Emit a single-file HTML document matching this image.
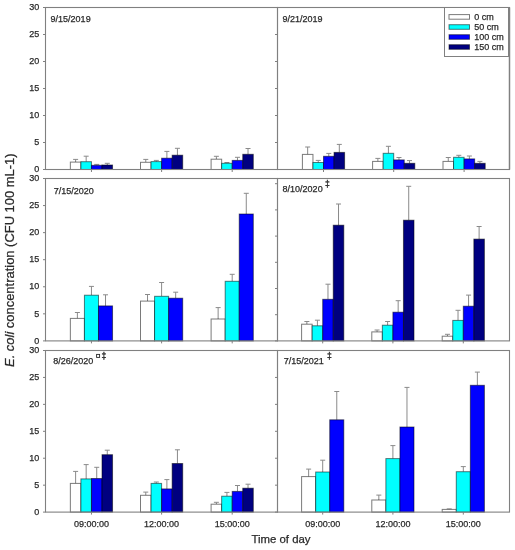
<!DOCTYPE html>
<html><head><meta charset="utf-8"><title>E. coli concentration chart</title>
<style>
html,body{margin:0;padding:0;background:#fff;}
body{width:515px;height:550px;overflow:hidden;font-family:"Liberation Sans",sans-serif;}
svg{display:block;will-change:transform;}
</style></head><body>
<svg width="515" height="550" viewBox="0 0 515 550">
<rect x="0" y="0" width="515" height="550" fill="#ffffff"/>
<line x1="75.62" y1="162.10" x2="75.62" y2="159.40" stroke="#8a8a8a" stroke-width="1"/>
<line x1="73.12" y1="159.40" x2="78.12" y2="159.40" stroke="#8a8a8a" stroke-width="1"/>
<rect x="70.35" y="162.10" width="10.55" height="7.40" fill="#ffffff" stroke="#000" stroke-opacity="0.52" stroke-width="1"/>
<line x1="86.17" y1="161.70" x2="86.17" y2="156.20" stroke="#8a8a8a" stroke-width="1"/>
<line x1="83.67" y1="156.20" x2="88.67" y2="156.20" stroke="#8a8a8a" stroke-width="1"/>
<rect x="80.90" y="161.70" width="10.55" height="7.80" fill="#00ffff" stroke="#000" stroke-opacity="0.52" stroke-width="1"/>
<line x1="96.72" y1="165.30" x2="96.72" y2="164.40" stroke="#8a8a8a" stroke-width="1"/>
<line x1="94.22" y1="164.40" x2="99.22" y2="164.40" stroke="#8a8a8a" stroke-width="1"/>
<rect x="91.45" y="165.30" width="10.55" height="4.20" fill="#0000ff" stroke="#000" stroke-opacity="0.52" stroke-width="1"/>
<line x1="107.28" y1="165.00" x2="107.28" y2="163.30" stroke="#8a8a8a" stroke-width="1"/>
<line x1="104.78" y1="163.30" x2="109.78" y2="163.30" stroke="#8a8a8a" stroke-width="1"/>
<rect x="102.00" y="165.00" width="10.55" height="4.50" fill="#000080" stroke="#000" stroke-opacity="0.52" stroke-width="1"/>
<line x1="145.78" y1="162.30" x2="145.78" y2="159.40" stroke="#8a8a8a" stroke-width="1"/>
<line x1="143.28" y1="159.40" x2="148.28" y2="159.40" stroke="#8a8a8a" stroke-width="1"/>
<rect x="140.50" y="162.30" width="10.55" height="7.20" fill="#ffffff" stroke="#000" stroke-opacity="0.52" stroke-width="1"/>
<line x1="156.33" y1="161.60" x2="156.33" y2="160.40" stroke="#8a8a8a" stroke-width="1"/>
<line x1="153.83" y1="160.40" x2="158.83" y2="160.40" stroke="#8a8a8a" stroke-width="1"/>
<rect x="151.05" y="161.60" width="10.55" height="7.90" fill="#00ffff" stroke="#000" stroke-opacity="0.52" stroke-width="1"/>
<line x1="166.88" y1="158.20" x2="166.88" y2="151.40" stroke="#8a8a8a" stroke-width="1"/>
<line x1="164.38" y1="151.40" x2="169.38" y2="151.40" stroke="#8a8a8a" stroke-width="1"/>
<rect x="161.60" y="158.20" width="10.55" height="11.30" fill="#0000ff" stroke="#000" stroke-opacity="0.52" stroke-width="1"/>
<line x1="177.43" y1="155.20" x2="177.43" y2="148.30" stroke="#8a8a8a" stroke-width="1"/>
<line x1="174.93" y1="148.30" x2="179.93" y2="148.30" stroke="#8a8a8a" stroke-width="1"/>
<rect x="172.15" y="155.20" width="10.55" height="14.30" fill="#000080" stroke="#000" stroke-opacity="0.52" stroke-width="1"/>
<line x1="216.38" y1="159.20" x2="216.38" y2="156.30" stroke="#8a8a8a" stroke-width="1"/>
<line x1="213.88" y1="156.30" x2="218.88" y2="156.30" stroke="#8a8a8a" stroke-width="1"/>
<rect x="211.10" y="159.20" width="10.55" height="10.30" fill="#ffffff" stroke="#000" stroke-opacity="0.52" stroke-width="1"/>
<line x1="226.93" y1="163.30" x2="226.93" y2="162.50" stroke="#8a8a8a" stroke-width="1"/>
<line x1="224.43" y1="162.50" x2="229.43" y2="162.50" stroke="#8a8a8a" stroke-width="1"/>
<rect x="221.65" y="163.30" width="10.55" height="6.20" fill="#00ffff" stroke="#000" stroke-opacity="0.52" stroke-width="1"/>
<line x1="237.47" y1="160.40" x2="237.47" y2="157.30" stroke="#8a8a8a" stroke-width="1"/>
<line x1="234.97" y1="157.30" x2="239.97" y2="157.30" stroke="#8a8a8a" stroke-width="1"/>
<rect x="232.20" y="160.40" width="10.55" height="9.10" fill="#0000ff" stroke="#000" stroke-opacity="0.52" stroke-width="1"/>
<line x1="248.03" y1="154.30" x2="248.03" y2="148.50" stroke="#8a8a8a" stroke-width="1"/>
<line x1="245.53" y1="148.50" x2="250.53" y2="148.50" stroke="#8a8a8a" stroke-width="1"/>
<rect x="242.75" y="154.30" width="10.55" height="15.20" fill="#000080" stroke="#000" stroke-opacity="0.52" stroke-width="1"/>
<line x1="307.67" y1="154.40" x2="307.67" y2="147.00" stroke="#8a8a8a" stroke-width="1"/>
<line x1="305.17" y1="147.00" x2="310.17" y2="147.00" stroke="#8a8a8a" stroke-width="1"/>
<rect x="302.40" y="154.40" width="10.55" height="15.10" fill="#ffffff" stroke="#000" stroke-opacity="0.52" stroke-width="1"/>
<line x1="318.22" y1="162.50" x2="318.22" y2="160.40" stroke="#8a8a8a" stroke-width="1"/>
<line x1="315.72" y1="160.40" x2="320.72" y2="160.40" stroke="#8a8a8a" stroke-width="1"/>
<rect x="312.95" y="162.50" width="10.55" height="7.00" fill="#00ffff" stroke="#000" stroke-opacity="0.52" stroke-width="1"/>
<line x1="328.77" y1="156.30" x2="328.77" y2="153.40" stroke="#8a8a8a" stroke-width="1"/>
<line x1="326.27" y1="153.40" x2="331.27" y2="153.40" stroke="#8a8a8a" stroke-width="1"/>
<rect x="323.50" y="156.30" width="10.55" height="13.20" fill="#0000ff" stroke="#000" stroke-opacity="0.52" stroke-width="1"/>
<line x1="339.32" y1="152.40" x2="339.32" y2="144.40" stroke="#8a8a8a" stroke-width="1"/>
<line x1="336.82" y1="144.40" x2="341.82" y2="144.40" stroke="#8a8a8a" stroke-width="1"/>
<rect x="334.05" y="152.40" width="10.55" height="17.10" fill="#000080" stroke="#000" stroke-opacity="0.52" stroke-width="1"/>
<line x1="377.87" y1="161.40" x2="377.87" y2="158.40" stroke="#8a8a8a" stroke-width="1"/>
<line x1="375.37" y1="158.40" x2="380.37" y2="158.40" stroke="#8a8a8a" stroke-width="1"/>
<rect x="372.60" y="161.40" width="10.55" height="8.10" fill="#ffffff" stroke="#000" stroke-opacity="0.52" stroke-width="1"/>
<line x1="388.42" y1="153.30" x2="388.42" y2="146.30" stroke="#8a8a8a" stroke-width="1"/>
<line x1="385.92" y1="146.30" x2="390.92" y2="146.30" stroke="#8a8a8a" stroke-width="1"/>
<rect x="383.15" y="153.30" width="10.55" height="16.20" fill="#00ffff" stroke="#000" stroke-opacity="0.52" stroke-width="1"/>
<line x1="398.97" y1="159.90" x2="398.97" y2="157.50" stroke="#8a8a8a" stroke-width="1"/>
<line x1="396.47" y1="157.50" x2="401.47" y2="157.50" stroke="#8a8a8a" stroke-width="1"/>
<rect x="393.70" y="159.90" width="10.55" height="9.60" fill="#0000ff" stroke="#000" stroke-opacity="0.52" stroke-width="1"/>
<line x1="409.52" y1="163.30" x2="409.52" y2="160.60" stroke="#8a8a8a" stroke-width="1"/>
<line x1="407.02" y1="160.60" x2="412.02" y2="160.60" stroke="#8a8a8a" stroke-width="1"/>
<rect x="404.25" y="163.30" width="10.55" height="6.20" fill="#000080" stroke="#000" stroke-opacity="0.52" stroke-width="1"/>
<line x1="448.27" y1="161.40" x2="448.27" y2="157.50" stroke="#8a8a8a" stroke-width="1"/>
<line x1="445.77" y1="157.50" x2="450.77" y2="157.50" stroke="#8a8a8a" stroke-width="1"/>
<rect x="443.00" y="161.40" width="10.55" height="8.10" fill="#ffffff" stroke="#000" stroke-opacity="0.52" stroke-width="1"/>
<line x1="458.82" y1="157.30" x2="458.82" y2="155.30" stroke="#8a8a8a" stroke-width="1"/>
<line x1="456.32" y1="155.30" x2="461.32" y2="155.30" stroke="#8a8a8a" stroke-width="1"/>
<rect x="453.55" y="157.30" width="10.55" height="12.20" fill="#00ffff" stroke="#000" stroke-opacity="0.52" stroke-width="1"/>
<line x1="469.38" y1="158.90" x2="469.38" y2="156.00" stroke="#8a8a8a" stroke-width="1"/>
<line x1="466.88" y1="156.00" x2="471.88" y2="156.00" stroke="#8a8a8a" stroke-width="1"/>
<rect x="464.10" y="158.90" width="10.55" height="10.60" fill="#0000ff" stroke="#000" stroke-opacity="0.52" stroke-width="1"/>
<line x1="479.92" y1="163.30" x2="479.92" y2="161.40" stroke="#8a8a8a" stroke-width="1"/>
<line x1="477.42" y1="161.40" x2="482.42" y2="161.40" stroke="#8a8a8a" stroke-width="1"/>
<rect x="474.65" y="163.30" width="10.55" height="6.20" fill="#000080" stroke="#000" stroke-opacity="0.52" stroke-width="1"/>
<line x1="77.38" y1="318.40" x2="77.38" y2="312.50" stroke="#8a8a8a" stroke-width="1"/>
<line x1="74.88" y1="312.50" x2="79.88" y2="312.50" stroke="#8a8a8a" stroke-width="1"/>
<rect x="70.35" y="318.40" width="14.07" height="22.50" fill="#ffffff" stroke="#000" stroke-opacity="0.52" stroke-width="1"/>
<line x1="91.45" y1="295.20" x2="91.45" y2="286.40" stroke="#8a8a8a" stroke-width="1"/>
<line x1="88.95" y1="286.40" x2="93.95" y2="286.40" stroke="#8a8a8a" stroke-width="1"/>
<rect x="84.42" y="295.20" width="14.07" height="45.70" fill="#00ffff" stroke="#000" stroke-opacity="0.52" stroke-width="1"/>
<line x1="105.52" y1="305.90" x2="105.52" y2="294.80" stroke="#8a8a8a" stroke-width="1"/>
<line x1="103.02" y1="294.80" x2="108.02" y2="294.80" stroke="#8a8a8a" stroke-width="1"/>
<rect x="98.48" y="305.90" width="14.07" height="35.00" fill="#0000ff" stroke="#000" stroke-opacity="0.52" stroke-width="1"/>
<line x1="147.53" y1="301.10" x2="147.53" y2="294.50" stroke="#8a8a8a" stroke-width="1"/>
<line x1="145.03" y1="294.50" x2="150.03" y2="294.50" stroke="#8a8a8a" stroke-width="1"/>
<rect x="140.50" y="301.10" width="14.07" height="39.80" fill="#ffffff" stroke="#000" stroke-opacity="0.52" stroke-width="1"/>
<line x1="161.60" y1="296.30" x2="161.60" y2="282.50" stroke="#8a8a8a" stroke-width="1"/>
<line x1="159.10" y1="282.50" x2="164.10" y2="282.50" stroke="#8a8a8a" stroke-width="1"/>
<rect x="154.57" y="296.30" width="14.07" height="44.60" fill="#00ffff" stroke="#000" stroke-opacity="0.52" stroke-width="1"/>
<line x1="175.67" y1="298.20" x2="175.67" y2="292.20" stroke="#8a8a8a" stroke-width="1"/>
<line x1="173.17" y1="292.20" x2="178.17" y2="292.20" stroke="#8a8a8a" stroke-width="1"/>
<rect x="168.63" y="298.20" width="14.07" height="42.70" fill="#0000ff" stroke="#000" stroke-opacity="0.52" stroke-width="1"/>
<line x1="218.13" y1="319.00" x2="218.13" y2="307.60" stroke="#8a8a8a" stroke-width="1"/>
<line x1="215.63" y1="307.60" x2="220.63" y2="307.60" stroke="#8a8a8a" stroke-width="1"/>
<rect x="211.10" y="319.00" width="14.07" height="21.90" fill="#ffffff" stroke="#000" stroke-opacity="0.52" stroke-width="1"/>
<line x1="232.20" y1="281.30" x2="232.20" y2="274.30" stroke="#8a8a8a" stroke-width="1"/>
<line x1="229.70" y1="274.30" x2="234.70" y2="274.30" stroke="#8a8a8a" stroke-width="1"/>
<rect x="225.17" y="281.30" width="14.07" height="59.60" fill="#00ffff" stroke="#000" stroke-opacity="0.52" stroke-width="1"/>
<line x1="246.27" y1="214.00" x2="246.27" y2="193.30" stroke="#8a8a8a" stroke-width="1"/>
<line x1="243.77" y1="193.30" x2="248.77" y2="193.30" stroke="#8a8a8a" stroke-width="1"/>
<rect x="239.23" y="214.00" width="14.07" height="126.90" fill="#0000ff" stroke="#000" stroke-opacity="0.52" stroke-width="1"/>
<line x1="306.87" y1="324.20" x2="306.87" y2="321.50" stroke="#8a8a8a" stroke-width="1"/>
<line x1="304.37" y1="321.50" x2="309.37" y2="321.50" stroke="#8a8a8a" stroke-width="1"/>
<rect x="301.60" y="324.20" width="10.55" height="16.70" fill="#ffffff" stroke="#000" stroke-opacity="0.52" stroke-width="1"/>
<line x1="317.42" y1="325.80" x2="317.42" y2="320.20" stroke="#8a8a8a" stroke-width="1"/>
<line x1="314.92" y1="320.20" x2="319.92" y2="320.20" stroke="#8a8a8a" stroke-width="1"/>
<rect x="312.15" y="325.80" width="10.55" height="15.10" fill="#00ffff" stroke="#000" stroke-opacity="0.52" stroke-width="1"/>
<line x1="327.97" y1="299.30" x2="327.97" y2="284.20" stroke="#8a8a8a" stroke-width="1"/>
<line x1="325.47" y1="284.20" x2="330.47" y2="284.20" stroke="#8a8a8a" stroke-width="1"/>
<rect x="322.70" y="299.30" width="10.55" height="41.60" fill="#0000ff" stroke="#000" stroke-opacity="0.52" stroke-width="1"/>
<line x1="338.52" y1="225.20" x2="338.52" y2="204.00" stroke="#8a8a8a" stroke-width="1"/>
<line x1="336.02" y1="204.00" x2="341.02" y2="204.00" stroke="#8a8a8a" stroke-width="1"/>
<rect x="333.25" y="225.20" width="10.55" height="115.70" fill="#000080" stroke="#000" stroke-opacity="0.52" stroke-width="1"/>
<line x1="377.07" y1="331.90" x2="377.07" y2="330.00" stroke="#8a8a8a" stroke-width="1"/>
<line x1="374.57" y1="330.00" x2="379.57" y2="330.00" stroke="#8a8a8a" stroke-width="1"/>
<rect x="371.80" y="331.90" width="10.55" height="9.00" fill="#ffffff" stroke="#000" stroke-opacity="0.52" stroke-width="1"/>
<line x1="387.62" y1="325.20" x2="387.62" y2="321.50" stroke="#8a8a8a" stroke-width="1"/>
<line x1="385.12" y1="321.50" x2="390.12" y2="321.50" stroke="#8a8a8a" stroke-width="1"/>
<rect x="382.35" y="325.20" width="10.55" height="15.70" fill="#00ffff" stroke="#000" stroke-opacity="0.52" stroke-width="1"/>
<line x1="398.17" y1="312.20" x2="398.17" y2="300.70" stroke="#8a8a8a" stroke-width="1"/>
<line x1="395.67" y1="300.70" x2="400.67" y2="300.70" stroke="#8a8a8a" stroke-width="1"/>
<rect x="392.90" y="312.20" width="10.55" height="28.70" fill="#0000ff" stroke="#000" stroke-opacity="0.52" stroke-width="1"/>
<line x1="408.72" y1="220.20" x2="408.72" y2="186.30" stroke="#8a8a8a" stroke-width="1"/>
<line x1="406.22" y1="186.30" x2="411.22" y2="186.30" stroke="#8a8a8a" stroke-width="1"/>
<rect x="403.45" y="220.20" width="10.55" height="120.70" fill="#000080" stroke="#000" stroke-opacity="0.52" stroke-width="1"/>
<line x1="447.47" y1="336.20" x2="447.47" y2="334.30" stroke="#8a8a8a" stroke-width="1"/>
<line x1="444.97" y1="334.30" x2="449.97" y2="334.30" stroke="#8a8a8a" stroke-width="1"/>
<rect x="442.20" y="336.20" width="10.55" height="4.70" fill="#ffffff" stroke="#000" stroke-opacity="0.52" stroke-width="1"/>
<line x1="458.02" y1="320.40" x2="458.02" y2="310.30" stroke="#8a8a8a" stroke-width="1"/>
<line x1="455.52" y1="310.30" x2="460.52" y2="310.30" stroke="#8a8a8a" stroke-width="1"/>
<rect x="452.75" y="320.40" width="10.55" height="20.50" fill="#00ffff" stroke="#000" stroke-opacity="0.52" stroke-width="1"/>
<line x1="468.57" y1="306.20" x2="468.57" y2="295.10" stroke="#8a8a8a" stroke-width="1"/>
<line x1="466.07" y1="295.10" x2="471.07" y2="295.10" stroke="#8a8a8a" stroke-width="1"/>
<rect x="463.30" y="306.20" width="10.55" height="34.70" fill="#0000ff" stroke="#000" stroke-opacity="0.52" stroke-width="1"/>
<line x1="479.12" y1="239.10" x2="479.12" y2="226.50" stroke="#8a8a8a" stroke-width="1"/>
<line x1="476.62" y1="226.50" x2="481.62" y2="226.50" stroke="#8a8a8a" stroke-width="1"/>
<rect x="473.85" y="239.10" width="10.55" height="101.80" fill="#000080" stroke="#000" stroke-opacity="0.52" stroke-width="1"/>
<line x1="75.62" y1="483.40" x2="75.62" y2="471.40" stroke="#8a8a8a" stroke-width="1"/>
<line x1="73.12" y1="471.40" x2="78.12" y2="471.40" stroke="#8a8a8a" stroke-width="1"/>
<rect x="70.35" y="483.40" width="10.55" height="28.70" fill="#ffffff" stroke="#000" stroke-opacity="0.52" stroke-width="1"/>
<line x1="86.17" y1="478.90" x2="86.17" y2="464.60" stroke="#8a8a8a" stroke-width="1"/>
<line x1="83.67" y1="464.60" x2="88.67" y2="464.60" stroke="#8a8a8a" stroke-width="1"/>
<rect x="80.90" y="478.90" width="10.55" height="33.20" fill="#00ffff" stroke="#000" stroke-opacity="0.52" stroke-width="1"/>
<line x1="96.72" y1="478.50" x2="96.72" y2="467.30" stroke="#8a8a8a" stroke-width="1"/>
<line x1="94.22" y1="467.30" x2="99.22" y2="467.30" stroke="#8a8a8a" stroke-width="1"/>
<rect x="91.45" y="478.50" width="10.55" height="33.60" fill="#0000ff" stroke="#000" stroke-opacity="0.52" stroke-width="1"/>
<line x1="107.28" y1="454.70" x2="107.28" y2="450.20" stroke="#8a8a8a" stroke-width="1"/>
<line x1="104.78" y1="450.20" x2="109.78" y2="450.20" stroke="#8a8a8a" stroke-width="1"/>
<rect x="102.00" y="454.70" width="10.55" height="57.40" fill="#000080" stroke="#000" stroke-opacity="0.52" stroke-width="1"/>
<line x1="145.78" y1="495.30" x2="145.78" y2="492.10" stroke="#8a8a8a" stroke-width="1"/>
<line x1="143.28" y1="492.10" x2="148.28" y2="492.10" stroke="#8a8a8a" stroke-width="1"/>
<rect x="140.50" y="495.30" width="10.55" height="16.80" fill="#ffffff" stroke="#000" stroke-opacity="0.52" stroke-width="1"/>
<line x1="156.33" y1="483.40" x2="156.33" y2="482.00" stroke="#8a8a8a" stroke-width="1"/>
<line x1="153.83" y1="482.00" x2="158.83" y2="482.00" stroke="#8a8a8a" stroke-width="1"/>
<rect x="151.05" y="483.40" width="10.55" height="28.70" fill="#00ffff" stroke="#000" stroke-opacity="0.52" stroke-width="1"/>
<line x1="166.88" y1="488.90" x2="166.88" y2="479.60" stroke="#8a8a8a" stroke-width="1"/>
<line x1="164.38" y1="479.60" x2="169.38" y2="479.60" stroke="#8a8a8a" stroke-width="1"/>
<rect x="161.60" y="488.90" width="10.55" height="23.20" fill="#0000ff" stroke="#000" stroke-opacity="0.52" stroke-width="1"/>
<line x1="177.43" y1="463.50" x2="177.43" y2="449.80" stroke="#8a8a8a" stroke-width="1"/>
<line x1="174.93" y1="449.80" x2="179.93" y2="449.80" stroke="#8a8a8a" stroke-width="1"/>
<rect x="172.15" y="463.50" width="10.55" height="48.60" fill="#000080" stroke="#000" stroke-opacity="0.52" stroke-width="1"/>
<line x1="216.38" y1="504.20" x2="216.38" y2="502.30" stroke="#8a8a8a" stroke-width="1"/>
<line x1="213.88" y1="502.30" x2="218.88" y2="502.30" stroke="#8a8a8a" stroke-width="1"/>
<rect x="211.10" y="504.20" width="10.55" height="7.90" fill="#ffffff" stroke="#000" stroke-opacity="0.52" stroke-width="1"/>
<line x1="226.93" y1="496.20" x2="226.93" y2="492.40" stroke="#8a8a8a" stroke-width="1"/>
<line x1="224.43" y1="492.40" x2="229.43" y2="492.40" stroke="#8a8a8a" stroke-width="1"/>
<rect x="221.65" y="496.20" width="10.55" height="15.90" fill="#00ffff" stroke="#000" stroke-opacity="0.52" stroke-width="1"/>
<line x1="237.47" y1="491.40" x2="237.47" y2="485.50" stroke="#8a8a8a" stroke-width="1"/>
<line x1="234.97" y1="485.50" x2="239.97" y2="485.50" stroke="#8a8a8a" stroke-width="1"/>
<rect x="232.20" y="491.40" width="10.55" height="20.70" fill="#0000ff" stroke="#000" stroke-opacity="0.52" stroke-width="1"/>
<line x1="248.03" y1="488.20" x2="248.03" y2="484.20" stroke="#8a8a8a" stroke-width="1"/>
<line x1="245.53" y1="484.20" x2="250.53" y2="484.20" stroke="#8a8a8a" stroke-width="1"/>
<rect x="242.75" y="488.20" width="10.55" height="23.90" fill="#000080" stroke="#000" stroke-opacity="0.52" stroke-width="1"/>
<line x1="308.63" y1="476.60" x2="308.63" y2="469.10" stroke="#8a8a8a" stroke-width="1"/>
<line x1="306.13" y1="469.10" x2="311.13" y2="469.10" stroke="#8a8a8a" stroke-width="1"/>
<rect x="301.60" y="476.60" width="14.07" height="35.50" fill="#ffffff" stroke="#000" stroke-opacity="0.52" stroke-width="1"/>
<line x1="322.70" y1="472.00" x2="322.70" y2="460.20" stroke="#8a8a8a" stroke-width="1"/>
<line x1="320.20" y1="460.20" x2="325.20" y2="460.20" stroke="#8a8a8a" stroke-width="1"/>
<rect x="315.67" y="472.00" width="14.07" height="40.10" fill="#00ffff" stroke="#000" stroke-opacity="0.52" stroke-width="1"/>
<line x1="336.77" y1="419.80" x2="336.77" y2="391.50" stroke="#8a8a8a" stroke-width="1"/>
<line x1="334.27" y1="391.50" x2="339.27" y2="391.50" stroke="#8a8a8a" stroke-width="1"/>
<rect x="329.73" y="419.80" width="14.07" height="92.30" fill="#0000ff" stroke="#000" stroke-opacity="0.52" stroke-width="1"/>
<line x1="378.83" y1="500.00" x2="378.83" y2="495.10" stroke="#8a8a8a" stroke-width="1"/>
<line x1="376.33" y1="495.10" x2="381.33" y2="495.10" stroke="#8a8a8a" stroke-width="1"/>
<rect x="371.80" y="500.00" width="14.07" height="12.10" fill="#ffffff" stroke="#000" stroke-opacity="0.52" stroke-width="1"/>
<line x1="392.90" y1="458.60" x2="392.90" y2="445.60" stroke="#8a8a8a" stroke-width="1"/>
<line x1="390.40" y1="445.60" x2="395.40" y2="445.60" stroke="#8a8a8a" stroke-width="1"/>
<rect x="385.87" y="458.60" width="14.07" height="53.50" fill="#00ffff" stroke="#000" stroke-opacity="0.52" stroke-width="1"/>
<line x1="406.97" y1="427.00" x2="406.97" y2="387.40" stroke="#8a8a8a" stroke-width="1"/>
<line x1="404.47" y1="387.40" x2="409.47" y2="387.40" stroke="#8a8a8a" stroke-width="1"/>
<rect x="399.93" y="427.00" width="14.07" height="85.10" fill="#0000ff" stroke="#000" stroke-opacity="0.52" stroke-width="1"/>
<line x1="449.23" y1="509.40" x2="449.23" y2="508.90" stroke="#8a8a8a" stroke-width="1"/>
<line x1="446.73" y1="508.90" x2="451.73" y2="508.90" stroke="#8a8a8a" stroke-width="1"/>
<rect x="442.20" y="509.40" width="14.07" height="2.70" fill="#ffffff" stroke="#000" stroke-opacity="0.52" stroke-width="1"/>
<line x1="463.30" y1="471.70" x2="463.30" y2="466.60" stroke="#8a8a8a" stroke-width="1"/>
<line x1="460.80" y1="466.60" x2="465.80" y2="466.60" stroke="#8a8a8a" stroke-width="1"/>
<rect x="456.27" y="471.70" width="14.07" height="40.40" fill="#00ffff" stroke="#000" stroke-opacity="0.52" stroke-width="1"/>
<line x1="477.37" y1="385.30" x2="477.37" y2="372.10" stroke="#8a8a8a" stroke-width="1"/>
<line x1="474.87" y1="372.10" x2="479.87" y2="372.10" stroke="#8a8a8a" stroke-width="1"/>
<rect x="470.33" y="385.30" width="14.07" height="126.80" fill="#0000ff" stroke="#000" stroke-opacity="0.52" stroke-width="1"/>
<rect x="45.5" y="7.5" width="232.0" height="162.0" fill="none" stroke="#808080" stroke-width="1.1"/>
<line x1="43.0" y1="169.50" x2="45.5" y2="169.50" stroke="#808080" stroke-width="1"/>
<line x1="43.0" y1="142.50" x2="45.5" y2="142.50" stroke="#808080" stroke-width="1"/>
<line x1="43.0" y1="115.50" x2="45.5" y2="115.50" stroke="#808080" stroke-width="1"/>
<line x1="43.0" y1="88.50" x2="45.5" y2="88.50" stroke="#808080" stroke-width="1"/>
<line x1="43.0" y1="61.50" x2="45.5" y2="61.50" stroke="#808080" stroke-width="1"/>
<line x1="43.0" y1="34.50" x2="45.5" y2="34.50" stroke="#808080" stroke-width="1"/>
<line x1="43.0" y1="7.50" x2="45.5" y2="7.50" stroke="#808080" stroke-width="1"/>
<line x1="91.45" y1="169.5" x2="91.45" y2="172.0" stroke="#808080" stroke-width="1"/>
<line x1="161.60" y1="169.5" x2="161.60" y2="172.0" stroke="#808080" stroke-width="1"/>
<line x1="232.20" y1="169.5" x2="232.20" y2="172.0" stroke="#808080" stroke-width="1"/>
<rect x="277.5" y="7.5" width="232.0" height="162.0" fill="none" stroke="#808080" stroke-width="1.1"/>
<line x1="275.0" y1="169.50" x2="277.5" y2="169.50" stroke="#808080" stroke-width="1"/>
<line x1="275.0" y1="142.50" x2="277.5" y2="142.50" stroke="#808080" stroke-width="1"/>
<line x1="275.0" y1="115.50" x2="277.5" y2="115.50" stroke="#808080" stroke-width="1"/>
<line x1="275.0" y1="88.50" x2="277.5" y2="88.50" stroke="#808080" stroke-width="1"/>
<line x1="275.0" y1="61.50" x2="277.5" y2="61.50" stroke="#808080" stroke-width="1"/>
<line x1="275.0" y1="34.50" x2="277.5" y2="34.50" stroke="#808080" stroke-width="1"/>
<line x1="275.0" y1="7.50" x2="277.5" y2="7.50" stroke="#808080" stroke-width="1"/>
<line x1="323.50" y1="169.5" x2="323.50" y2="172.0" stroke="#808080" stroke-width="1"/>
<line x1="393.70" y1="169.5" x2="393.70" y2="172.0" stroke="#808080" stroke-width="1"/>
<line x1="464.10" y1="169.5" x2="464.10" y2="172.0" stroke="#808080" stroke-width="1"/>
<rect x="45.5" y="178.5" width="232.0" height="162.39999999999998" fill="none" stroke="#808080" stroke-width="1.1"/>
<line x1="43.0" y1="340.90" x2="45.5" y2="340.90" stroke="#808080" stroke-width="1"/>
<line x1="43.0" y1="313.83" x2="45.5" y2="313.83" stroke="#808080" stroke-width="1"/>
<line x1="43.0" y1="286.77" x2="45.5" y2="286.77" stroke="#808080" stroke-width="1"/>
<line x1="43.0" y1="259.70" x2="45.5" y2="259.70" stroke="#808080" stroke-width="1"/>
<line x1="43.0" y1="232.63" x2="45.5" y2="232.63" stroke="#808080" stroke-width="1"/>
<line x1="43.0" y1="205.57" x2="45.5" y2="205.57" stroke="#808080" stroke-width="1"/>
<line x1="43.0" y1="178.50" x2="45.5" y2="178.50" stroke="#808080" stroke-width="1"/>
<line x1="91.45" y1="340.9" x2="91.45" y2="343.4" stroke="#808080" stroke-width="1"/>
<line x1="161.60" y1="340.9" x2="161.60" y2="343.4" stroke="#808080" stroke-width="1"/>
<line x1="232.20" y1="340.9" x2="232.20" y2="343.4" stroke="#808080" stroke-width="1"/>
<rect x="277.5" y="178.5" width="232.0" height="162.39999999999998" fill="none" stroke="#808080" stroke-width="1.1"/>
<line x1="275.0" y1="340.90" x2="277.5" y2="340.90" stroke="#808080" stroke-width="1"/>
<line x1="275.0" y1="314.70" x2="277.5" y2="314.70" stroke="#808080" stroke-width="1"/>
<line x1="275.0" y1="288.50" x2="277.5" y2="288.50" stroke="#808080" stroke-width="1"/>
<line x1="275.0" y1="262.30" x2="277.5" y2="262.30" stroke="#808080" stroke-width="1"/>
<line x1="275.0" y1="236.10" x2="277.5" y2="236.10" stroke="#808080" stroke-width="1"/>
<line x1="275.0" y1="209.90" x2="277.5" y2="209.90" stroke="#808080" stroke-width="1"/>
<line x1="275.0" y1="183.70" x2="277.5" y2="183.70" stroke="#808080" stroke-width="1"/>
<line x1="322.70" y1="340.9" x2="322.70" y2="343.4" stroke="#808080" stroke-width="1"/>
<line x1="392.90" y1="340.9" x2="392.90" y2="343.4" stroke="#808080" stroke-width="1"/>
<line x1="463.30" y1="340.9" x2="463.30" y2="343.4" stroke="#808080" stroke-width="1"/>
<rect x="45.5" y="350.5" width="232.0" height="161.60000000000002" fill="none" stroke="#808080" stroke-width="1.1"/>
<line x1="43.0" y1="512.10" x2="45.5" y2="512.10" stroke="#808080" stroke-width="1"/>
<line x1="43.0" y1="485.17" x2="45.5" y2="485.17" stroke="#808080" stroke-width="1"/>
<line x1="43.0" y1="458.23" x2="45.5" y2="458.23" stroke="#808080" stroke-width="1"/>
<line x1="43.0" y1="431.30" x2="45.5" y2="431.30" stroke="#808080" stroke-width="1"/>
<line x1="43.0" y1="404.37" x2="45.5" y2="404.37" stroke="#808080" stroke-width="1"/>
<line x1="43.0" y1="377.43" x2="45.5" y2="377.43" stroke="#808080" stroke-width="1"/>
<line x1="43.0" y1="350.50" x2="45.5" y2="350.50" stroke="#808080" stroke-width="1"/>
<line x1="91.45" y1="512.1" x2="91.45" y2="514.6" stroke="#808080" stroke-width="1"/>
<line x1="161.60" y1="512.1" x2="161.60" y2="514.6" stroke="#808080" stroke-width="1"/>
<line x1="232.20" y1="512.1" x2="232.20" y2="514.6" stroke="#808080" stroke-width="1"/>
<rect x="277.5" y="350.5" width="232.0" height="161.60000000000002" fill="none" stroke="#808080" stroke-width="1.1"/>
<line x1="275.0" y1="512.10" x2="277.5" y2="512.10" stroke="#808080" stroke-width="1"/>
<line x1="275.0" y1="485.17" x2="277.5" y2="485.17" stroke="#808080" stroke-width="1"/>
<line x1="275.0" y1="458.23" x2="277.5" y2="458.23" stroke="#808080" stroke-width="1"/>
<line x1="275.0" y1="431.30" x2="277.5" y2="431.30" stroke="#808080" stroke-width="1"/>
<line x1="275.0" y1="404.37" x2="277.5" y2="404.37" stroke="#808080" stroke-width="1"/>
<line x1="275.0" y1="377.43" x2="277.5" y2="377.43" stroke="#808080" stroke-width="1"/>
<line x1="275.0" y1="350.50" x2="277.5" y2="350.50" stroke="#808080" stroke-width="1"/>
<line x1="322.70" y1="512.1" x2="322.70" y2="514.6" stroke="#808080" stroke-width="1"/>
<line x1="392.90" y1="512.1" x2="392.90" y2="514.6" stroke="#808080" stroke-width="1"/>
<line x1="463.30" y1="512.1" x2="463.30" y2="514.6" stroke="#808080" stroke-width="1"/>
<g font-family="Liberation Sans, sans-serif" font-size="9" fill="#2a2a2a" stroke="#2a2a2a" stroke-width="0.25" text-anchor="end">
<text x="39.2" y="172.20">0</text>
<text x="39.2" y="145.20">5</text>
<text x="39.2" y="118.20">10</text>
<text x="39.2" y="91.20">15</text>
<text x="39.2" y="64.20">20</text>
<text x="39.2" y="37.20">25</text>
<text x="39.2" y="10.20">30</text>
<text x="39.2" y="343.60">0</text>
<text x="39.2" y="316.53">5</text>
<text x="39.2" y="289.47">10</text>
<text x="39.2" y="262.40">15</text>
<text x="39.2" y="235.33">20</text>
<text x="39.2" y="208.27">25</text>
<text x="39.2" y="181.20">30</text>
<text x="39.2" y="514.80">0</text>
<text x="39.2" y="487.87">5</text>
<text x="39.2" y="460.93">10</text>
<text x="39.2" y="434.00">15</text>
<text x="39.2" y="407.07">20</text>
<text x="39.2" y="380.13">25</text>
<text x="39.2" y="353.20">30</text>
</g>
<g font-family="Liberation Sans, sans-serif" font-size="9" fill="#2a2a2a" stroke="#2a2a2a" stroke-width="0.25" text-anchor="middle">
<text x="91.45" y="527.3">09:00:00</text>
<text x="161.60" y="527.3">12:00:00</text>
<text x="232.20" y="527.3">15:00:00</text>
<text x="322.70" y="527.3">09:00:00</text>
<text x="392.90" y="527.3">12:00:00</text>
<text x="463.30" y="527.3">15:00:00</text>
</g>
<g font-family="Liberation Sans, sans-serif" font-size="9" fill="#2a2a2a" stroke="#2a2a2a" stroke-width="0.25">
<text x="50.6" y="21.6">9/15/2019</text>
<text x="282.4" y="21.6">9/21/2019</text>
<text x="53.8" y="193.6">7/15/2020</text>
<text x="282.6" y="191.6">8/10/2020</text>
<text x="53.2" y="364.2">8/26/2020</text>
<text x="283.8" y="364.0">7/15/2021</text>
</g>
<g font-family="Liberation Sans, sans-serif" font-size="8.6" fill="#2a2a2a" stroke="#2a2a2a" stroke-width="0.35">
<text x="324.9" y="186.9">‡</text>
<text x="327.1" y="359.3">‡</text>
<text x="101.6" y="358.7">‡</text>
</g>
<rect x="96.6" y="354.4" width="3" height="3" fill="none" stroke="#2a2a2a" stroke-width="0.9"/>
<rect x="444.5" y="7.5" width="64" height="49" fill="#ffffff" stroke="#808080" stroke-width="1"/>
<rect x="449" y="14.60" width="20.5" height="4.6" fill="#ffffff" stroke="#000" stroke-opacity="0.52" stroke-width="1"/>
<rect x="449" y="24.70" width="20.5" height="4.6" fill="#00ffff" stroke="#000" stroke-opacity="0.52" stroke-width="1"/>
<rect x="449" y="34.70" width="20.5" height="4.6" fill="#0000ff" stroke="#000" stroke-opacity="0.52" stroke-width="1"/>
<rect x="449" y="44.70" width="20.5" height="4.6" fill="#000080" stroke="#000" stroke-opacity="0.52" stroke-width="1"/>
<g font-family="Liberation Sans, sans-serif" font-size="9" fill="#2a2a2a" stroke="#2a2a2a" stroke-width="0.25">
<text x="474.2" y="19.90">0 cm</text>
<text x="474.2" y="30.00">50 cm</text>
<text x="474.2" y="40.00">100 cm</text>
<text x="474.2" y="50.00">150 cm</text>
</g>
<line x1="509.5" y1="7.5" x2="509.5" y2="169.5" stroke="#808080" stroke-width="1.4"/>
<text x="281" y="543.4" font-family="Liberation Sans, sans-serif" font-size="11.4" fill="#2a2a2a" stroke="#2a2a2a" stroke-width="0.25" text-anchor="middle">Time of day</text>
<text transform="translate(14.0,260.2) rotate(-90)" font-family="Liberation Sans, sans-serif" font-size="12.95" stroke="#2a2a2a" stroke-width="0.25" fill="#2a2a2a" text-anchor="middle"><tspan font-style="italic">E. coli</tspan> concentration (CFU 100 mL-1)</text>
</svg>
</body></html>
